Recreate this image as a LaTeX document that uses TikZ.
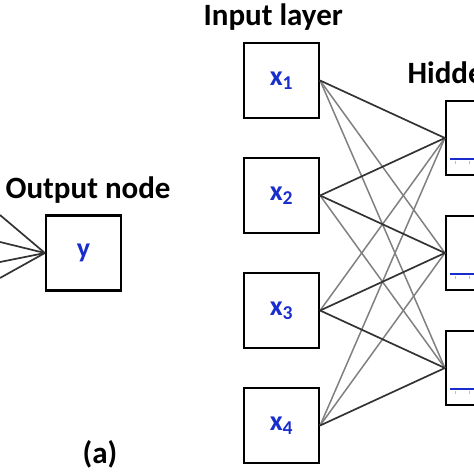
\documentclass[tikz,border=0pt]{standalone}
\usepackage{fontspec}
\setmainfont{Carlito}
\definecolor{varblue}{RGB}{25,45,205}
\begin{document}
\begin{tikzpicture}[x=1pt, y=-1pt,
                    line width=1.2pt,
                    ]
    \tikzstyle{unit}=[draw=black, line width=2.2pt, minimum size=75pt, inner sep=0pt]
    \tikzstyle{hidden}=[unit, minimum size=74pt]
    \tikzstyle{title}=[anchor=base west, inner sep=0pt, font=\fontsize{31}{31}\selectfont\bfseries]
    \tikzstyle{var}=[text=varblue, font=\fontsize{28}{28}\selectfont\bfseries]
    \tikzstyle{strong}=[draw=black!80, line width=1.7pt]
    \tikzstyle{weak}=[draw=black!50, line width=1.5pt]
    \tikzstyle{activ}=[draw=varblue, line width=1.8pt]
    \tikzstyle{tick}=[draw=black!25, line width=0.7pt]

    \useasboundingbox (0,0) rectangle (474,474);
    \clip (0,0) rectangle (474,474);

    % input layer
    \foreach \i in {1,...,4}
        \node[unit, var] (x\i) at (281.5, {80.5+115*(\i-1)}) {x\textsubscript{\i}};

    % hidden layer (cut at the right edge)
    \foreach \j in {1,2,3} {
        \node[hidden] (h\j) at (483, {138+115*(\j-1)}) {};
        \draw[activ] (450, {159+115*(\j-1)}) -- (476, {159+115*(\j-1)});
        \draw[tick] (455, {161+115*(\j-1)}) -- (455, {164+115*(\j-1)});
        \draw[tick] (469, {161+115*(\j-1)}) -- (469, {164+115*(\j-1)});
    }

    % weights
    \foreach \i/\j in {1/2,1/3,2/3,3/1,4/1,4/2}
        \draw[weak] (x\i.east) -- (h\j.west);
    \foreach \i/\j in {1/1,2/1,2/2,3/2,3/3,4/3}
        \draw[strong] (x\i.east) -- (h\j.west);

    % output node
    \node[unit, var] (y) at (83.5, 253) {y};
    \coordinate (o1) at (0, 215);
    \coordinate (o2) at (0, 242);
    \coordinate (o3) at (0, 262);
    \coordinate (o4) at (0, 278);
    \foreach \k in {1,...,4}
        \draw[strong] (o\k) -- (y.west);

    % titles
    \node[title] (tin) at (203, 25) {Input layer};
    \node[title] (thid) at (407, 83) {Hidden layer};
    \node[title] (tout) at (5, 198) {Output node};
    \node[title, anchor=base] (tcap) at (100, 463) {(a)};
\end{tikzpicture}
\end{document}
